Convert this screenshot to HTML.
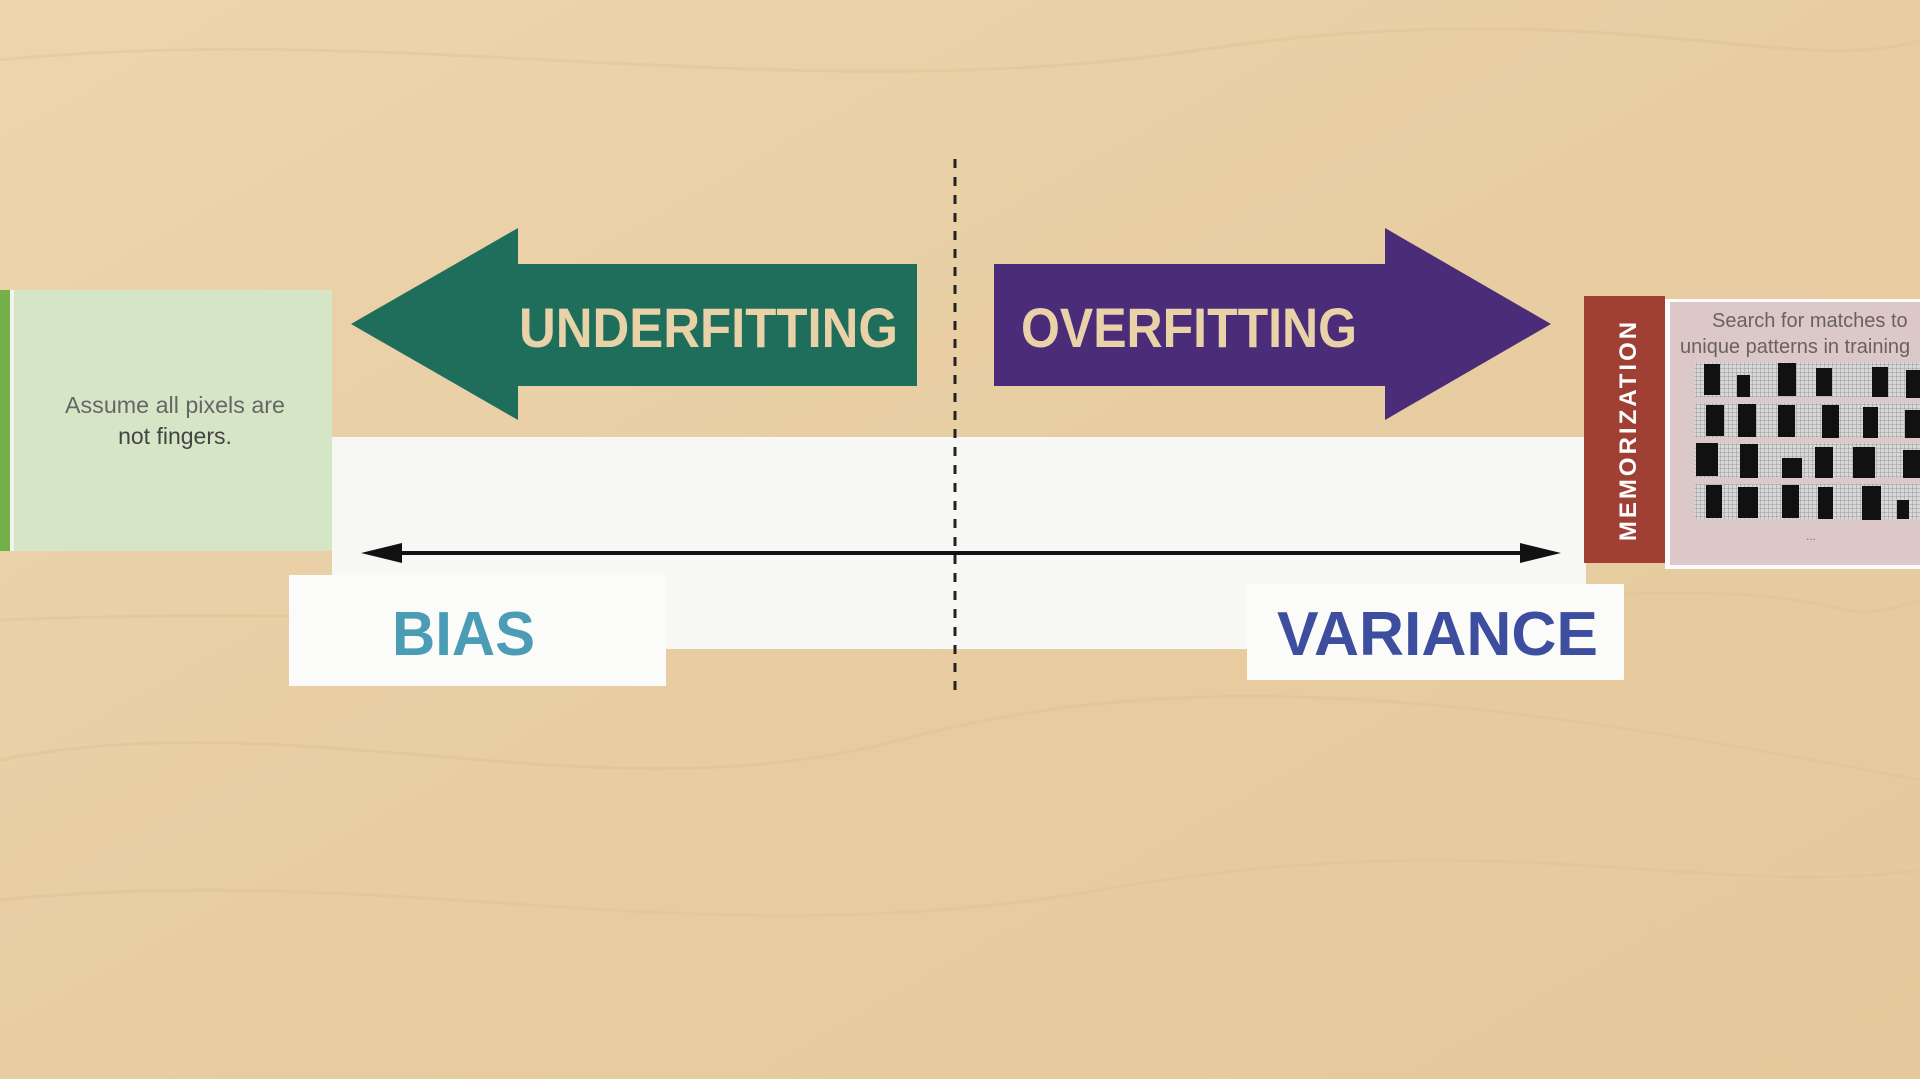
<!DOCTYPE html>
<html><head><meta charset="utf-8"><style>
html,body{margin:0;padding:0;width:1920px;height:1079px;overflow:hidden;background:#e9d1a8}
svg{display:block}
</style></head><body>
<svg width="1920" height="1079" viewBox="0 0 1920 1079" xmlns="http://www.w3.org/2000/svg">
<defs>
<linearGradient id="wood" x1="0" y1="0" x2="1" y2="1">
<stop offset="0" stop-color="#ecd5ad"/><stop offset="0.5" stop-color="#e8cda2"/><stop offset="1" stop-color="#e6c99c"/>
</linearGradient>
<pattern id="grid" width="4" height="4" patternUnits="userSpaceOnUse">
<rect width="4" height="4" fill="#d8d8d8"/><path d="M0 0H4M0 0V4" stroke="#8a8a8a" stroke-width="0.8"/>
</pattern>
</defs>
<rect width="1920" height="1079" fill="url(#wood)"/>
<g fill="none" stroke="#dcbd90" stroke-width="3" opacity="0.35">
<path d="M0 60 C400 20 800 110 1200 50 S1800 80 1920 40"/>
<path d="M0 760 C300 700 600 820 900 740 S1500 700 1920 780"/>
<path d="M0 900 C400 860 700 960 1100 890 S1700 900 1920 870"/>
<path d="M0 620 C500 600 900 660 1400 610 S1800 640 1920 600"/>
</g>

<!-- white strip -->
<rect x="332" y="437" width="1254" height="212" fill="#f7f7f5"/>
<!-- bias label -->
<rect x="289" y="575" width="377" height="111" fill="#fbfbfa"/>
<text x="392" y="655" font-family="Liberation Sans,sans-serif" font-weight="bold" font-size="62" fill="#4a9db5" textLength="143" lengthAdjust="spacingAndGlyphs">BIAS</text>
<!-- variance label -->
<rect x="1247" y="584" width="377" height="96" fill="#fbfbfa"/>
<text x="1277" y="655" font-family="Liberation Sans,sans-serif" font-weight="bold" font-size="62" fill="#3e4e9e" textLength="321" lengthAdjust="spacingAndGlyphs">VARIANCE</text>

<!-- left card -->
<rect x="0" y="290" width="332" height="261" fill="#d5e6c6"/>
<rect x="0" y="290" width="10" height="261" fill="#74b04a"/>
<rect x="10" y="290" width="4" height="261" fill="#f2f5ee"/>
<text x="175" y="413" text-anchor="middle" font-family="Liberation Sans,sans-serif" font-size="23" fill="#666" textLength="220" lengthAdjust="spacingAndGlyphs">Assume all pixels are</text>
<text x="175" y="444" text-anchor="middle" font-family="Liberation Sans,sans-serif" font-size="23" fill="#444">not fingers.</text>

<!-- double arrow -->
<line x1="380" y1="553" x2="1540" y2="553" stroke="#111" stroke-width="4"/>
<polygon points="361,553 402,543 402,563" fill="#111"/>
<polygon points="1561,553 1520,543 1520,563" fill="#111"/>

<!-- dotted line -->
<line x1="955" y1="159" x2="955" y2="698" stroke="#222" stroke-width="3" stroke-dasharray="9,9"/>

<!-- underfitting arrow -->
<polygon points="351,324 518,228 518,264 917,264 917,386 518,386 518,420" fill="#1f6e5c"/>
<text x="519" y="347" font-family="Liberation Sans,sans-serif" font-weight="bold" font-size="56" fill="#ead2a8" textLength="379" lengthAdjust="spacingAndGlyphs">UNDERFITTING</text>
<!-- overfitting arrow -->
<polygon points="994,264 1385,264 1385,228 1551,324 1385,420 1385,386 994,386" fill="#4b2c78"/>
<text x="1021" y="347" font-family="Liberation Sans,sans-serif" font-weight="bold" font-size="56" fill="#ead2a8" textLength="336" lengthAdjust="spacingAndGlyphs">OVERFITTING</text>

<!-- memorization card -->
<rect x="1665" y="299" width="255" height="270" fill="#fdfbfb"/>
<rect x="1670" y="302" width="250" height="263" fill="#dcc8c8"/>
<rect x="1584" y="296" width="81" height="267" fill="#a03f34"/>
<text transform="translate(1636,430) rotate(-90)" text-anchor="middle" font-family="Liberation Sans,sans-serif" font-weight="bold" font-size="24" letter-spacing="3" fill="#fff">MEMORIZATION</text>
<text x="1712" y="327" font-family="Liberation Sans,sans-serif" font-size="20" fill="#6b6060">Search for matches to</text>
<text x="1680" y="353" font-family="Liberation Sans,sans-serif" font-size="20" fill="#6b6060">unique patterns in training</text>
<g>
<rect x="1695" y="362" width="225" height="35" fill="url(#grid)"/>
<rect x="1695" y="403" width="225" height="35" fill="url(#grid)"/>
<rect x="1695" y="443" width="225" height="35" fill="url(#grid)"/>
<rect x="1695" y="484" width="225" height="35" fill="url(#grid)"/>
<g fill="#111">
<rect x="1704" y="364" width="16" height="31"/><rect x="1737" y="375" width="13" height="22"/><rect x="1778" y="363" width="18" height="33"/><rect x="1816" y="368" width="16" height="28"/><rect x="1872" y="367" width="16" height="30"/><rect x="1906" y="370" width="14" height="28"/>
<rect x="1706" y="405" width="18" height="31"/><rect x="1738" y="404" width="18" height="33"/><rect x="1778" y="405" width="17" height="32"/><rect x="1822" y="405" width="17" height="33"/><rect x="1863" y="407" width="15" height="31"/><rect x="1905" y="410" width="15" height="28"/>
<rect x="1696" y="443" width="22" height="33"/><rect x="1740" y="444" width="18" height="34"/><rect x="1782" y="458" width="20" height="20"/><rect x="1815" y="447" width="18" height="31"/><rect x="1853" y="447" width="22" height="31"/><rect x="1903" y="450" width="17" height="28"/>
<rect x="1706" y="485" width="16" height="33"/><rect x="1738" y="487" width="20" height="31"/><rect x="1782" y="485" width="17" height="33"/><rect x="1818" y="487" width="15" height="32"/><rect x="1862" y="486" width="19" height="34"/><rect x="1897" y="500" width="12" height="19"/>
</g>
</g>
<text x="1811" y="540" text-anchor="middle" font-family="Liberation Sans,sans-serif" font-size="12" fill="#777">...</text>
</svg>
</body></html>
